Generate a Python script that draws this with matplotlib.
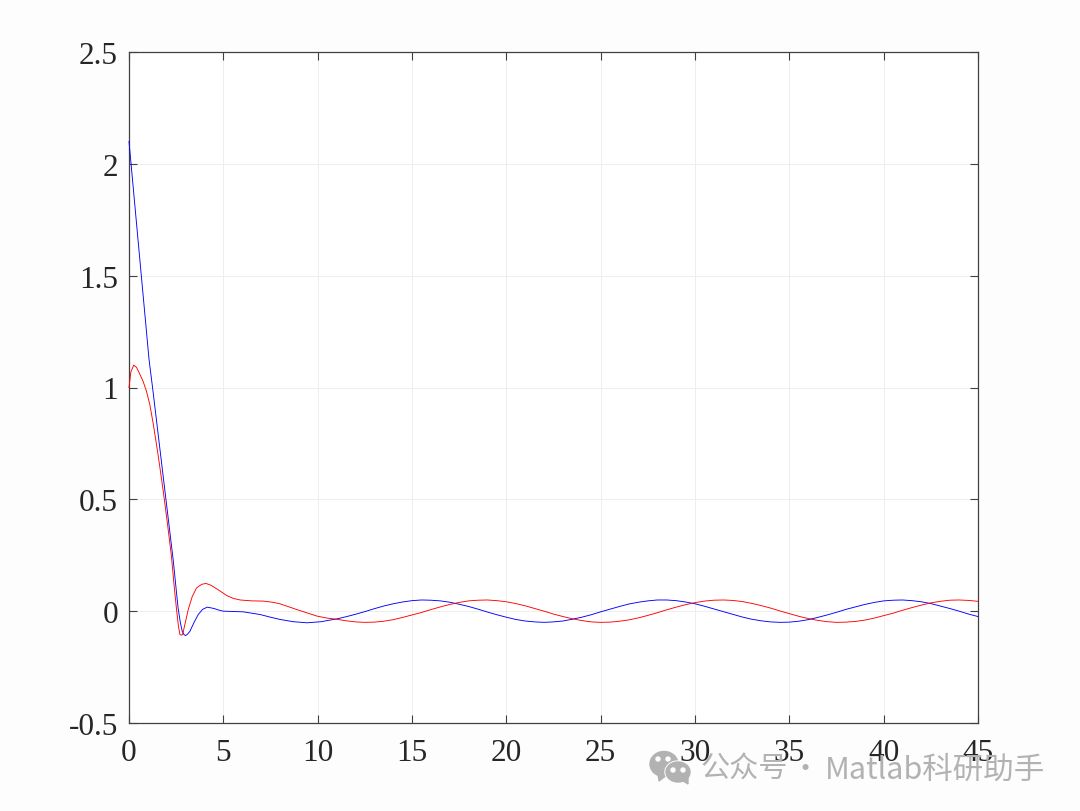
import matplotlib
matplotlib.use('Agg')
import matplotlib.pyplot as plt
from matplotlib.patches import Ellipse, Polygon

# values: the first part of each curve
red_x = [0, 0.1, 0.25, 0.4, 0.57, 0.745, 0.92, 1.1, 1.28, 1.54, 1.81, 2.04, 2.25, 2.39, 2.52, 2.62, 2.7, 2.77, 2.84, 2.96, 3.14, 3.35, 3.58, 3.85, 4.08, 4.34, 4.65, 5.18, 5.53, 5.89, 6.5, 7.13, 7.6, 8.0, 8.9, 9.96, 10.5]
red_y = [1.0, 1.07, 1.10, 1.09, 1.06, 1.028, 0.985, 0.925, 0.84, 0.70, 0.54, 0.39, 0.245, 0.115, 0.007, -0.067, -0.105, -0.107, -0.105, -0.06, 0.007, 0.065, 0.104, 0.12, 0.124, 0.116, 0.10, 0.07, 0.057, 0.05, 0.046, 0.045, 0.04, 0.033, 0.007, -0.022, -0.031]

blue_x = [0, 0.5, 1.06, 1.28, 1.81, 2.34, 2.6, 2.72, 2.82, 2.92, 3.0, 3.1, 3.23, 3.45, 3.67, 3.9, 4.15, 4.5, 4.75, 5.0, 6.06, 6.95, 7.5, 8.0, 8.7, 9.43, 10.2, 10.5]
blue_y = [2.1, 1.64, 1.127, 0.978, 0.604, 0.231, 0.015, -0.05, -0.09, -0.105, -0.109, -0.103, -0.09, -0.05, -0.015, 0.008, 0.018, 0.012, 0.005, 0.0, -0.003, -0.015, -0.027, -0.037, -0.047, -0.052, -0.047, -0.042]

# the slow wave that follows, read every half unit from x = 11
wave_x = [11, 11.5, 12, 12.5, 13, 13.5, 14, 14.5, 15, 15.5, 16, 16.5, 17, 17.5, 18, 18.5, 19, 19.5, 20, 20.5, 21, 21.5, 22, 22.5, 23, 23.5, 24, 24.5, 25, 25.5, 26, 26.5, 27, 27.5, 28, 28.5,
          29, 29.5, 30, 30.5, 31, 31.5, 32, 32.5, 33, 33.5, 34, 34.5, 35, 35.5, 36, 36.5, 37, 37.5, 38, 38.5, 39, 39.5, 40, 40.5, 41, 41.5, 42, 42.5, 43, 43.5, 44, 44.5, 45]
red_wave = [-0.036, -0.043, -0.048, -0.050, -0.049, -0.045, -0.038, -0.028, -0.017, -0.006, 0.007, 0.019, 0.030, 0.039, 0.046, 0.049, 0.050, 0.047, 0.042, 0.034, 0.024, 0.012, 0.0, -0.013, -0.024, -0.034, -0.042, -0.048, -0.050, -0.049, -0.045, -0.039, -0.030, -0.019, -0.007, 0.006,
            0.018, 0.029, 0.038, 0.045, 0.049, 0.050, 0.048, 0.043, 0.035, 0.025, 0.014, 0.001, -0.011, -0.023, -0.033, -0.041, -0.047, -0.050, -0.049, -0.046, -0.040, -0.031, -0.020, -0.009, 0.004, 0.016, 0.027, 0.037, 0.044, 0.049, 0.050, 0.048, 0.044]
blue_wave = [-0.035, -0.025, -0.014, -0.002, 0.011, 0.023, 0.033, 0.041, 0.047, 0.050, 0.049, 0.046, 0.040, 0.031, 0.021, 0.009, -0.004, -0.016, -0.027, -0.037, -0.044, -0.048, -0.050, -0.048, -0.044, -0.036, -0.027, -0.016, -0.003, 0.009, 0.021, 0.032, 0.040, 0.046, 0.050, 0.050,
             0.047, 0.041, 0.033, 0.022, 0.010, -0.002, -0.014, -0.026, -0.036, -0.043, -0.048, -0.050, -0.049, -0.045, -0.038, -0.028, -0.017, -0.005, 0.008, 0.019, 0.030, 0.039, 0.046, 0.049, 0.050, 0.047, 0.042, 0.034, 0.023, 0.012, 0.0, -0.013, -0.024]

x_ticks = [0, 5, 10, 15, 20, 25, 30, 35, 40, 45]
y_ticks = [-0.5, 0, 0.5, 1, 1.5, 2, 2.5]
y_labels = ['-0.5', '0', '0.5', '1', '1.5', '2', '2.5']

W, H = 1080, 812
fig = plt.figure(figsize=(W / 100, H / 100), dpi=100, facecolor='#fdfdfd')
ax = fig.add_axes([129 / W, (H - 724) / H, 849 / W, 671 / H], facecolor='white')

ax.plot(blue_x + wave_x, blue_y + blue_wave, color='#0000ff', lw=0.65, clip_on=False, zorder=3)
ax.plot(red_x + wave_x, red_y + red_wave, color='#ff0000', lw=0.65, clip_on=False, zorder=3)

ax.set_xlim(0, 45)
ax.set_ylim(-0.5, 2.5)
ax.set_xticks(x_ticks)
ax.set_yticks(y_ticks)
ax.set_yticklabels(y_labels)
ax.grid(True, color='#ebebeb', lw=0.6)
ax.set_axisbelow(True)
ax.tick_params(direction='in', length=6, width=0.8, color='#404040', top=True, right=True,
               labelsize=22.5, labelcolor='#262626')
ax.tick_params(axis='x', pad=11)
ax.tick_params(axis='y', pad=8)
for label in ax.get_xticklabels() + ax.get_yticklabels():
    label.set_family('Liberation Serif')
for s in ax.spines.values():
    s.set_color('#404040')
    s.set_linewidth(0.9)

# watermark
gray = '#b2b2b2'
fx = lambda p: p / W
fy = lambda p: 1 - p / H
def blob(cx, cy, w, h, c):
    fig.add_artist(Ellipse((fx(cx), fy(cy)), w / W, h / H, color=c, transform=fig.transFigure, zorder=10))
blob(664, 765, 28, 25, gray)
fig.add_artist(Polygon([[fx(658), fy(775)], [fx(668), fy(775)], [fx(659), fy(782)]], color=gray, transform=fig.transFigure, zorder=10))
blob(678, 773, 26, 22, '#fdfdfd')
blob(678, 773, 24, 20, gray)
fig.add_artist(Polygon([[fx(680), fy(780)], [fx(688), fy(778)], [fx(688), fy(785)]], color=gray, transform=fig.transFigure, zorder=10))
for cx, cy, c in [(658, 760, 'white'), (668, 760, 'white'), (673, 771, 'white'), (683, 771, 'white')]:
    blob(cx, cy, 4, 4, c)
font = ['Noto Sans CJK SC', 'DejaVu Sans']
fig.text(fx(701), fy(770), '公众号', fontsize=21, color=gray, va='center', ha='left', family=font, zorder=11)
fig.text(fx(805), fy(770), '·', fontsize=21, color=gray, va='center', ha='center', family=font, zorder=11)
fig.text(fx(825), fy(770), 'Matlab科研助手', fontsize=22, color=gray, va='center', ha='left', family=font, zorder=11)

fig.savefig('out.png', dpi=100, facecolor=fig.get_facecolor())
